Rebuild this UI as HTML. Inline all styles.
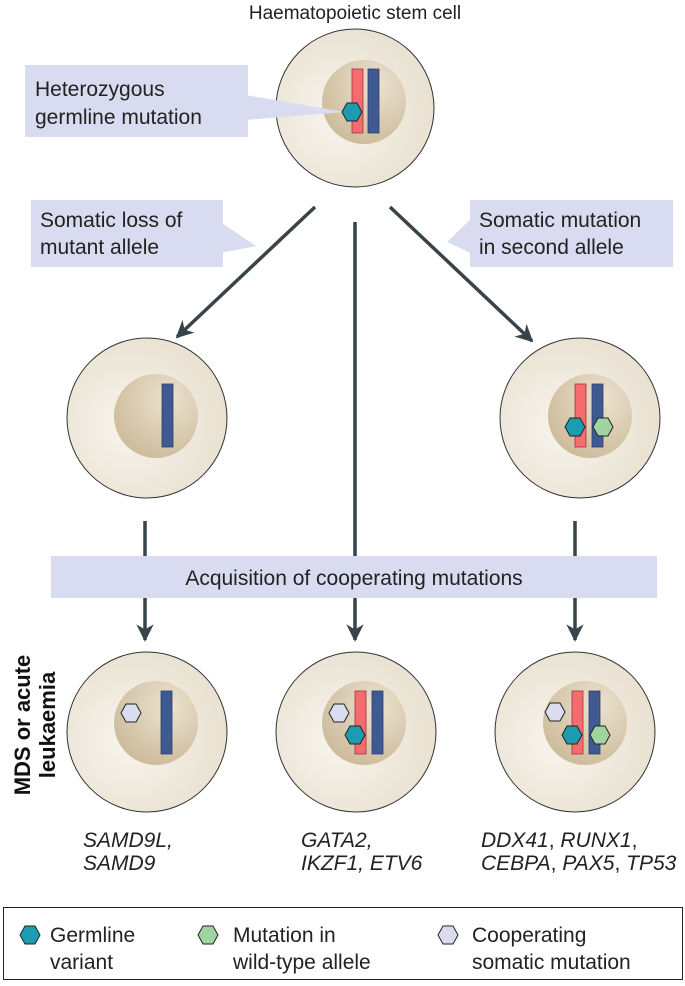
<!DOCTYPE html>
<html><head><meta charset="utf-8"><style>
html,body{margin:0;padding:0;background:#fff;}
svg{display:block;font-family:"Liberation Sans",sans-serif;}
</style></head><body>
<svg width="685" height="986" viewBox="0 0 685 986" xmlns="http://www.w3.org/2000/svg">
<defs>
<radialGradient id="cg" cx="0.4" cy="0.55" r="0.6"><stop offset="0" stop-color="#f8f5ee"/><stop offset="1" stop-color="#e9e1d1"/></radialGradient>
<radialGradient id="ng" cx="0.65" cy="0.3" r="0.75"><stop offset="0" stop-color="#ebe2d0"/><stop offset="1" stop-color="#cdbb9a"/></radialGradient>
<marker id="ah" viewBox="0 0 10 10" refX="9" refY="5" markerWidth="5" markerHeight="5" orient="auto"><path d="M0,0 L10,5 L0,10 L3,5 z" fill="#37444a"/></marker>
<g id="hex"><polygon points="-10,0 -5,-9 5,-9 10,0 5,9 -5,9" stroke="#222" stroke-width="1"/></g>
</defs>
<text x="355" y="19" font-size="19" text-anchor="middle" fill="#222">Haematopoietic stem cell</text>

<!-- top cell -->
<circle cx="355" cy="108" r="79" fill="url(#cg)" stroke="#333" stroke-width="1"/>
<circle cx="364" cy="102" r="42" fill="url(#ng)"/>
<rect x="352" y="69" width="11" height="64" fill="#f46c6e" stroke="#a03040" stroke-width="0.8"/>
<rect x="368" y="69" width="11" height="64" fill="#3f5a93" stroke="#2c3f6a" stroke-width="0.8"/>

<!-- callouts -->
<polygon points="245,95 345,112 245,120" fill="#d9dcf0"/>
<use href="#hex" x="352" y="112" fill="#1d9bb0"/>
<rect x="25" y="65" width="223" height="72" fill="#d9dcf0"/>
<text x="35" y="96" font-size="21" fill="#222">Heterozygous</text>
<text x="35" y="124" font-size="21" fill="#222">germline mutation</text>

<polygon points="210,215 256,246 210,255" fill="#d9dcf0"/>
<rect x="31" y="200" width="192" height="67" fill="#d9dcf0"/>
<text x="40" y="227" font-size="21" fill="#222">Somatic loss of</text>
<text x="40" y="254" font-size="21" fill="#222">mutant allele</text>

<polygon points="475,215 447,242 475,255" fill="#d9dcf0"/>
<rect x="470" y="200" width="203" height="67" fill="#d9dcf0"/>
<text x="479" y="227" font-size="21" fill="#222">Somatic mutation</text>
<text x="479" y="254" font-size="21" fill="#222">in second allele</text>

<!-- arrows -->
<g stroke="#37444a" stroke-width="3.5" fill="none">
<line x1="315" y1="207" x2="177" y2="337" marker-end="url(#ah)"/>
<line x1="355" y1="222" x2="355" y2="640" marker-end="url(#ah)"/>
<line x1="390" y1="207" x2="532" y2="341" marker-end="url(#ah)"/>
<line x1="145" y1="521" x2="145" y2="640" marker-end="url(#ah)"/>
<line x1="575" y1="521" x2="575" y2="640" marker-end="url(#ah)"/>
</g>

<!-- middle cells -->
<circle cx="147" cy="418" r="80" fill="url(#cg)" stroke="#333" stroke-width="1"/>
<circle cx="156" cy="416" r="42" fill="url(#ng)"/>
<rect x="162" y="384" width="11" height="63" fill="#3f5a93" stroke="#2c3f6a" stroke-width="0.8"/>

<circle cx="580" cy="418" r="80" fill="url(#cg)" stroke="#333" stroke-width="1"/>
<circle cx="590" cy="416" r="42" fill="url(#ng)"/>
<rect x="575" y="384" width="11" height="63" fill="#f46c6e" stroke="#a03040" stroke-width="0.8"/>
<rect x="592" y="384" width="11" height="63" fill="#3f5a93" stroke="#2c3f6a" stroke-width="0.8"/>
<use href="#hex" x="575" y="427" fill="#1d9bb0"/>
<use href="#hex" x="603" y="427" fill="#9fd4a0"/>

<!-- banner -->
<rect x="51" y="556" width="606" height="42" fill="#d9dcf0"/>
<text x="354" y="585" font-size="21" text-anchor="middle" fill="#222">Acquisition of cooperating mutations</text>

<!-- bottom cells -->
<circle cx="147" cy="732" r="80" fill="url(#cg)" stroke="#333" stroke-width="1"/>
<circle cx="156" cy="723" r="42" fill="url(#ng)"/>
<rect x="161" y="691" width="11" height="63" fill="#3f5a93" stroke="#2c3f6a" stroke-width="0.8"/>
<use href="#hex" x="131" y="713" fill="#dcdcef"/>

<circle cx="356" cy="732" r="80" fill="url(#cg)" stroke="#333" stroke-width="1"/>
<circle cx="364" cy="723" r="42" fill="url(#ng)"/>
<rect x="355" y="691" width="11" height="63" fill="#f46c6e" stroke="#a03040" stroke-width="0.8"/>
<rect x="372" y="691" width="11" height="63" fill="#3f5a93" stroke="#2c3f6a" stroke-width="0.8"/>
<use href="#hex" x="339" y="713" fill="#dcdcef"/>
<use href="#hex" x="355" y="735" fill="#1d9bb0"/>

<circle cx="575" cy="732" r="80" fill="url(#cg)" stroke="#333" stroke-width="1"/>
<circle cx="585" cy="723" r="42" fill="url(#ng)"/>
<rect x="572" y="691" width="11" height="63" fill="#f46c6e" stroke="#a03040" stroke-width="0.8"/>
<rect x="589" y="691" width="11" height="63" fill="#3f5a93" stroke="#2c3f6a" stroke-width="0.8"/>
<use href="#hex" x="555" y="712" fill="#dcdcef"/>
<use href="#hex" x="572" y="735" fill="#1d9bb0"/>
<use href="#hex" x="600" y="735" fill="#9fd4a0"/>

<!-- side label -->
<g transform="translate(30,725) rotate(-90)" font-size="22" font-weight="bold" fill="#111" text-anchor="middle">
<text x="0" y="0">MDS or acute</text>
<text x="0" y="25">leukaemia</text>
</g>

<!-- gene labels -->
<g font-size="21" font-style="italic" fill="#222">
<text x="83" y="847">SAMD9L,</text>
<text x="83" y="870">SAMD9</text>
<text x="301" y="847">GATA2,</text>
<text x="301" y="870">IKZF1, ETV6</text>
<text x="481" y="847">DDX41<tspan font-style="normal">, </tspan>RUNX1<tspan font-style="normal">,</tspan></text>
<text x="481" y="870">CEBPA<tspan font-style="normal">, </tspan>PAX5<tspan font-style="normal">, </tspan>TP53</text>
</g>

<!-- legend -->
<rect x="3.5" y="907.5" width="679" height="72" fill="#fff" stroke="#222" stroke-width="1"/>
<use href="#hex" x="30" y="935" fill="#1d9bb0"/>
<use href="#hex" x="208" y="935" fill="#9fd4a0"/>
<use href="#hex" x="448" y="935" fill="#dcdcef"/>
<g font-size="21" fill="#222">
<text x="50" y="942">Germline</text>
<text x="50" y="969">variant</text>
<text x="233" y="942">Mutation in</text>
<text x="233" y="969">wild-type allele</text>
<text x="472" y="942">Cooperating</text>
<text x="472" y="969">somatic mutation</text>
</g>
</svg>
</body></html>
